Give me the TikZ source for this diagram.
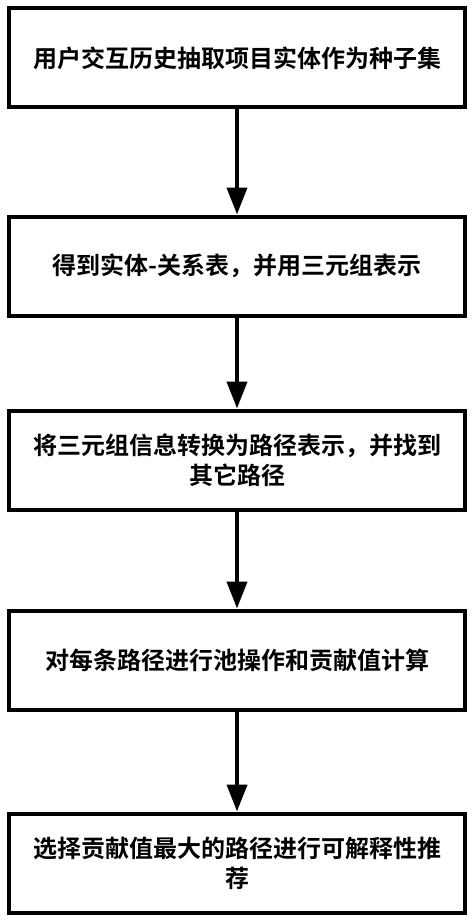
\documentclass[tikz,border=0pt]{standalone}
\usepackage{fontspec}
\setmainfont{Noto Sans CJK SC}[BoldFont={* Bold}]
\usetikzlibrary{arrows.meta}
\begin{document}
\begin{tikzpicture}[x=1pt,y=-1pt,
  stepbox/.style={draw=black,line width=4pt,minimum width=456pt,minimum height=99pt,
    align=center,inner sep=0pt,font=\fontsize{24pt}{30pt}\selectfont\bfseries},
  flow/.style={line width=4pt,-{Triangle[length=27pt,width=20pt]}}]
\useasboundingbox (0,0) rectangle (474,923);
\node[stepbox] (b1) at (237,58) {用户交互历史抽取项目实体作为种子集};
\node[stepbox] (b2) at (237,266) {得到实体-关系表，并用三元组表示};
\node[stepbox] (b3) at (237,460) {将三元组信息转换为路径表示，并找到\\其它路径};
\node[stepbox] (b4) at (237,660) {对每条路径进行池操作和贡献值计算};
\node[stepbox] (b5) at (237,863) {选择贡献值最大的路径进行可解释性推\\荐};
\draw[flow] (b1.south) -- (b2.north);
\draw[flow] (b2.south) -- (b3.north);
\draw[flow] (b3.south) -- (b4.north);
\draw[flow] (b4.south) -- (b5.north);
\end{tikzpicture}
\end{document}
